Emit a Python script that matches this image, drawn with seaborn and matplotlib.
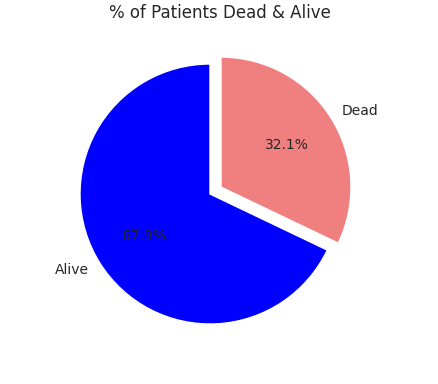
import matplotlib
matplotlib.use("Agg")
import matplotlib.pyplot as plt
import seaborn as sns

sns.set_style("darkgrid")

labels = ["Alive", "Dead"]
values = [67.9, 32.1]
colors = ["blue", "lightcoral"]
explode = [0, 0.1]

fig = plt.figure(figsize=(4.38, 3.84), dpi=100)
ax = fig.add_axes([47.5 / 438, 27.5 / 384, 325 / 438, 325 / 384])
ax.pie(values, labels=labels, colors=colors, explode=explode,
       autopct="%1.1f%%", startangle=90, textprops={"fontsize": 10})
ax.set_xlim(-1.25, 1.25)
ax.set_ylim(-1.25, 1.25)
ax.set_title("% of Patients Dead & Alive", fontsize=12, pad=10, x=0.53)
fig.savefig("out.png", dpi=100)
